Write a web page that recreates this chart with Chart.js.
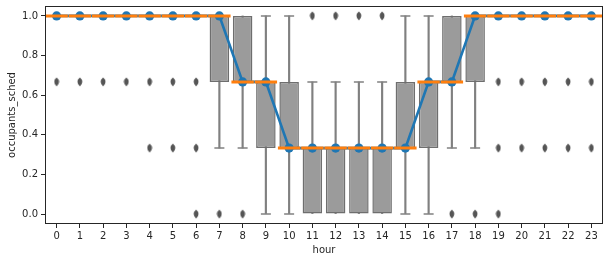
<!DOCTYPE html>
<html>
<head>
<meta charset="utf-8">
<script src="https://cdn.jsdelivr.net/npm/chart.js@4.4.1/dist/chart.umd.min.js"></script>
<style>
  html, body { margin: 0; padding: 0; background: #fff; }
  #wrap { width: 610px; height: 262px; position: relative; }
</style>
</head>
<body>
<div id="wrap"><canvas id="chart"></canvas></div>
<script>
// box plot of occupants_sched per hour
const hours = ['0','1','2','3','4','5','6','7','8','9','10','11','12','13','14','15','16','17','18','19','20','21','22','23'];
const q1 = [1,1,1,1,1,1,1, 0.667,0.667,0.333,0.333, 0,0,0,0, 0.333,0.333,0.667,0.667, 1,1,1,1,1];
const q3 = [1,1,1,1,1,1,1, 1,1,0.667,0.667, 0.333,0.333,0.333,0.333, 0.667,0.667,1,1, 1,1,1,1,1];
const medians = [1,1,1,1,1,1,1, 1,0.667,0.667,0.333, 0.333,0.333,0.333,0.333, 0.333,0.667,0.667,1, 1,1,1,1,1];
const whiskerLow = [1,1,1,1,1,1,1, 0.333,0.333,0,0, 0,0,0,0, 0,0,0.333,0.333, 1,1,1,1,1];
const whiskerHigh = [1,1,1,1,1,1,1, 1,1,1,1, 0.667,0.667,0.667,0.667, 1,1,1,1, 1,1,1,1,1];
// outliers: [hour, value]
const outliers = [
  ['0',0.667],['1',0.667],['2',0.667],['3',0.667],['4',0.667],['5',0.667],['6',0.667],
  ['4',0.333],['5',0.333],['6',0.333],
  ['6',0],['7',0],['8',0],
  ['11',1],['12',1],['13',1],['14',1],
  ['17',0],['18',0],['19',0],
  ['19',0.667],['20',0.667],['21',0.667],['22',0.667],['23',0.667],
  ['19',0.333],['20',0.333],['21',0.333],['22',0.333],['23',0.333]
];
const yTicks = [0, 0.2, 0.4, 0.6, 0.8, 1.0];

const boxFill = 'rgb(155,155,155)';
const boxEdge = 'rgb(110,110,110)';
const whiskerColor = 'rgb(128,128,128)';
const textColor = '#262626';

// narrow rounded diamond used for fliers
const flier = document.createElement('canvas');
flier.width = 6; flier.height = 10;
(function () {
  const c = flier.getContext('2d');
  c.fillStyle = '#555555';
  c.beginPath();
  c.moveTo(3, 0.6);
  c.quadraticCurveTo(5.4, 2.6, 5.4, 5);
  c.quadraticCurveTo(5.4, 7.4, 3, 9.4);
  c.quadraticCurveTo(0.6, 7.4, 0.6, 5);
  c.quadraticCurveTo(0.6, 2.6, 3, 0.6);
  c.closePath(); c.fill();
})();

const boxData = hours.map((h, i) => q1[i] === q3[i] ? null : [q1[i], q3[i]]);
const whiskerData = hours.map((h, i) => whiskerLow[i] === whiskerHigh[i] ? null : [whiskerLow[i], whiskerHigh[i]]);
const capLow = hours.map((h, i) => whiskerLow[i] === q1[i] ? null : whiskerLow[i]);
const capHigh = hours.map((h, i) => whiskerHigh[i] === q3[i] ? null : whiskerHigh[i]);

const frame = {
  id: 'frame',
  afterDraw(chart) {
    const a = chart.chartArea, ctx = chart.ctx;
    ctx.save();
    ctx.strokeStyle = textColor;
    ctx.lineWidth = 1;
    ctx.strokeRect(Math.round(a.left) + 0.5, Math.round(a.top) + 0.5,
      Math.round(a.right - a.left) - 1, Math.round(a.bottom - a.top) - 1);
    ctx.restore();
  }
};

const capStyle = {
  type: 'line', showLine: false, pointStyle: 'line', pointRadius: 5,
  pointBorderWidth: 1.5, pointBorderColor: whiskerColor, pointHoverRadius: 5
};

new Chart(document.getElementById('chart'), {
  type: 'bar',
  data: {
    labels: hours,
    datasets: [
      { label: 'whiskers', data: whiskerData, backgroundColor: whiskerColor,
        barThickness: 1.5, grouped: false, order: 6 },
      Object.assign({ label: 'capLow', data: capLow, order: 5 }, capStyle),
      Object.assign({ label: 'capHigh', data: capHigh, order: 5 }, capStyle),
      { label: 'boxes', data: boxData, backgroundColor: boxFill, borderColor: boxEdge,
        borderWidth: 1.5, borderSkipped: false, grouped: false,
        barPercentage: 0.84, categoryPercentage: 1, order: 4 },
      { label: 'outliers', type: 'line', showLine: false,
        data: outliers.map(o => ({ x: o[0], y: o[1] })),
        pointStyle: flier, pointRadius: 4, order: 3 },
      { label: 'estimate', type: 'line', data: medians, borderColor: '#1f77b4',
        backgroundColor: '#1f77b4', borderWidth: 2.6, pointRadius: 4.6,
        pointBorderWidth: 0, pointBackgroundColor: '#1f77b4', order: 2 },
      { label: 'medians', type: 'line', showLine: false, data: medians,
        pointStyle: 'line', pointRadius: 11.2, pointBorderWidth: 3,
        pointBorderColor: '#ff7f0e', order: 1 }
    ]
  },
  options: {
    responsive: true,
    maintainAspectRatio: false,
    animation: false,
    layout: { autoPadding: false, padding: { top: 6, right: 7, left: 0, bottom: 0 } },
    plugins: { legend: { display: false }, tooltip: { enabled: false } },
    scales: {
      x: {
        offset: true,
        grid: { offset: false, drawOnChartArea: false, drawTicks: true, tickLength: 4, color: textColor },
        border: { display: false },
        ticks: { autoSkip: false, maxRotation: 0, padding: 2, color: textColor,
          font: { family: 'DejaVu Sans', size: 10 } },
        title: { display: true, text: 'hour', color: textColor, padding: { top: 0, bottom: 6 },
          font: { family: 'DejaVu Sans', size: 10 } },
        afterFit(s) { s.height = 38; s.paddingLeft = 0; s.paddingRight = 0; }
      },
      y: {
        min: -0.05, max: 1.05,
        grid: { drawOnChartArea: false, drawTicks: true, tickLength: 4, color: textColor },
        border: { display: false },
        afterBuildTicks(s) { s.ticks = yTicks.map(v => ({ value: v })); },
        ticks: { padding: 3, color: textColor, font: { family: 'DejaVu Sans', size: 10 },
          callback: v => Number(v).toFixed(1) },
        title: { display: true, text: 'occupants_sched', color: textColor,
          padding: { top: 6, bottom: 0 }, font: { family: 'DejaVu Sans', size: 10 } },
        afterFit(s) { s.width = 45; s.paddingTop = 0; s.paddingBottom = 0; }
      }
    }
  },
  plugins: [frame]
});
</script>
</body>
</html>
